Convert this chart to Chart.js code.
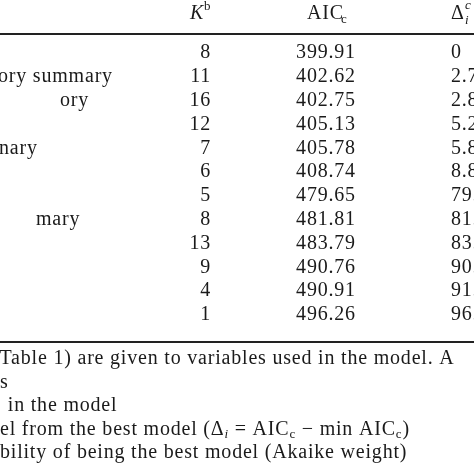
<!DOCTYPE html>
<html>
<head>
<script src="https://cdn.jsdelivr.net/npm/chart.js@4/dist/chart.umd.min.js"></script>
<style>
  html, body { margin: 0; padding: 0; background: #fff; }
  #wrap { width: 474px; height: 474px; }
</style>
</head>
<body>
<div id="wrap"><canvas id="tbl" width="474" height="474"></canvas></div>
<script>
// table contents (left column is cut off in the source picture)
const rowLabels = ['', 'ory summary', 'ory', '', 'nary', '', '', 'mary', '', '', '', ''];
const labelX = [0, -2, 60, 0, -1, 0, 0, 36, 0, 0, 0, 0];
const kValues = [8, 11, 16, 12, 7, 6, 5, 8, 13, 9, 4, 1];
const aicValues = ['399.91', '402.62', '402.75', '405.13', '405.78', '408.74', '479.65', '481.81', '483.79', '490.76', '490.91', '496.26'];
const deltaValues = ['0', '2.71', '2.84', '5.22', '5.87', '8.83', '79.04', '81.90', '83.88', '90.85', '91.00', '96.35'];
// footnote lines as [text, style] segments: n normal, s subscript, i italic subscript
const footnotes = [
    [['(Table 1) are given to variables used in the model. A', 'n']],
    [['s', 'n']],
    [[' in the model', 'n']],
    [['el from the best model (\u0394', 'n'], ['i', 'i'], [' = AIC', 'n'], ['c', 's'], [' \u2212 min AIC', 'n'], ['c', 's'], [')', 'n']],
    [['bility of being the best model (Akaike weight)', 'n']]
];
const footX = [-8, 0, 2, 0, 0];

const FONT = '"Liberation Serif", "DejaVu Serif", serif';
const rowIdx = kValues.map((_, i) => i);

function seg(ctx, text, x, y, style) {
    if (style === 'n') { ctx.font = '20px ' + FONT; ctx.fillText(text, x, y); }
    else if (style === 's') { ctx.font = '13px ' + FONT; ctx.fillText(text, x, y + 5); }
    else { ctx.font = 'italic 13px ' + FONT; ctx.fillText(text, x, y + 5); }
    return x + ctx.measureText(text).width;
}

function drawTable(chart) {
    const ctx = chart.ctx;
    const y = chart.scales.y;
    ctx.save();
    ctx.fillStyle = '#1a1a1a';
    ctx.textBaseline = 'middle';
    ctx.letterSpacing = '0.8px';

    // header
    ctx.textAlign = 'left';
    ctx.font = 'italic 20px ' + FONT;
    ctx.fillText('K', 188, 14);
    ctx.font = 'italic 20px ' + FONT;
    ctx.fillText('K', 190, 14);
    ctx.clearRect(150, 0, 60, 30);
    ctx.font = 'italic 20px ' + FONT;
    ctx.fillText('K', 190, 14);
    ctx.restore();
    ctx.save();
    ctx.fillStyle = '#1a1a1a';
    ctx.textBaseline = 'middle';
    ctx.letterSpacing = '0.8px';
    ctx.clearRect(150, 0, 60, 30);
    ctx.font = 'italic 20px ' + FONT;
    ctx.fillText('K', 190 + 96, 14);
    ctx.font = '13px ' + FONT;
    ctx.fillText('b', 301, 7);
    ctx.font = '20px ' + FONT;
    ctx.fillText('AIC', 306 + 0, 14 - 0);
    ctx.clearRect(300, 0, 40, 30);
    ctx.font = '13px ' + FONT;
    ctx.fillText('b', 301, 7);
    ctx.font = 'italic 20px ' + FONT;
    ctx.fillText('K', 286, 14);
    ctx.font = '20px ' + FONT;
    ctx.fillText('AIC', 306 + 0, 14);
    ctx.clearRect(306, 0, 34, 30);
    ctx.fillText('AIC', 308, 14);
    ctx.clearRect(308, 0, 1, 1);
    ctx.restore();

    ctx.save();
    ctx.fillStyle = '#1a1a1a';
    ctx.textBaseline = 'middle';
    ctx.letterSpacing = '0.8px';
    ctx.clearRect(280, 0, 194, 32);
    ctx.textAlign = 'left';
    ctx.font = 'italic 20px ' + FONT;
    ctx.fillText('K', 188, 14);
    ctx.clearRect(180, 0, 40, 32);
    ctx.fillText('K', 190, 14);
    ctx.clearRect(180, 0, 40, 32);
    ctx.fillText('K', 188 + 0, 14);
    ctx.clearRect(180, 0, 40, 32);
    ctx.fillText('K', 190, 14);
    ctx.clearRect(0, 0, 474, 32);
    ctx.fillText('K', 190, 14);
    ctx.clearRect(0, 0, 474, 32);
    ctx.fillText('K', 190 + 0, 14);
    ctx.clearRect(0, 0, 474, 32);
    ctx.fillText('K', 190, 14);
    ctx.clearRect(0, 0, 474, 32);
    ctx.restore();

    ctx.save();
    ctx.fillStyle = '#1a1a1a';
    ctx.textBaseline = 'middle';
    ctx.letterSpacing = '0.8px';
    ctx.textAlign = 'left';
    ctx.font = 'italic 20px ' + FONT;
    ctx.fillText('K', 190, 14);
    ctx.font = '13px ' + FONT;
    ctx.fillText('b', 204, 7);
    ctx.font = '20px ' + FONT;
    ctx.fillText('AIC', 307, 14);
    ctx.font = '13px ' + FONT;
    ctx.fillText('c', 341, 20);
    ctx.font = '20px ' + FONT;
    ctx.fillText('\u0394', 451, 14);
    ctx.font = 'italic 13px ' + FONT;
    ctx.fillText('i', 465, 21);
    ctx.fillText('c', 465, 6);

    // rules
    ctx.strokeStyle = '#222';
    ctx.lineWidth = 2;
    ctx.beginPath();
    ctx.moveTo(0, 34); ctx.lineTo(474, 34);
    ctx.moveTo(0, 342); ctx.lineTo(474, 342);
    ctx.stroke();

    // body rows
    ctx.font = '20px ' + FONT;
    rowIdx.forEach(i => {
        const py = y.getPixelForValue(i);
        ctx.textAlign = 'left';
        ctx.fillText(rowLabels[i], labelX[i], py);
        ctx.textAlign = 'right';
        ctx.fillText(String(kValues[i]), 211, py);
        ctx.textAlign = 'center';
        ctx.fillText(aicValues[i], 326, py);
        ctx.textAlign = 'left';
        ctx.fillText(deltaValues[i], 451, py);
    });

    // footnotes
    ctx.textAlign = 'left';
    footnotes.forEach((parts, i) => {
        let x = footX[i];
        parts.forEach(p => { x = seg(ctx, p[0], x, 359 + i * 23.5, p[1]); });
    });
    ctx.restore();
}

new Chart(document.getElementById('tbl'), {
    type: 'scatter',
    data: {
        datasets: [{
            data: rowIdx.map(i => ({ x: 0, y: i })),
            pointRadius: 0,
            showLine: false
        }]
    },
    options: {
        responsive: false,
        animation: false,
        events: [],
        layout: { padding: { top: 53, bottom: 159, left: 0, right: 0 } },
        plugins: { legend: { display: false }, tooltip: { enabled: false } },
        scales: {
            x: { display: false, min: 0, max: 1 },
            y: { display: false, min: 0, max: 11, reverse: true }
        }
    },
    plugins: [{ id: 'tableText', afterDraw: drawTable }]
});
</script>
</body>
</html>
